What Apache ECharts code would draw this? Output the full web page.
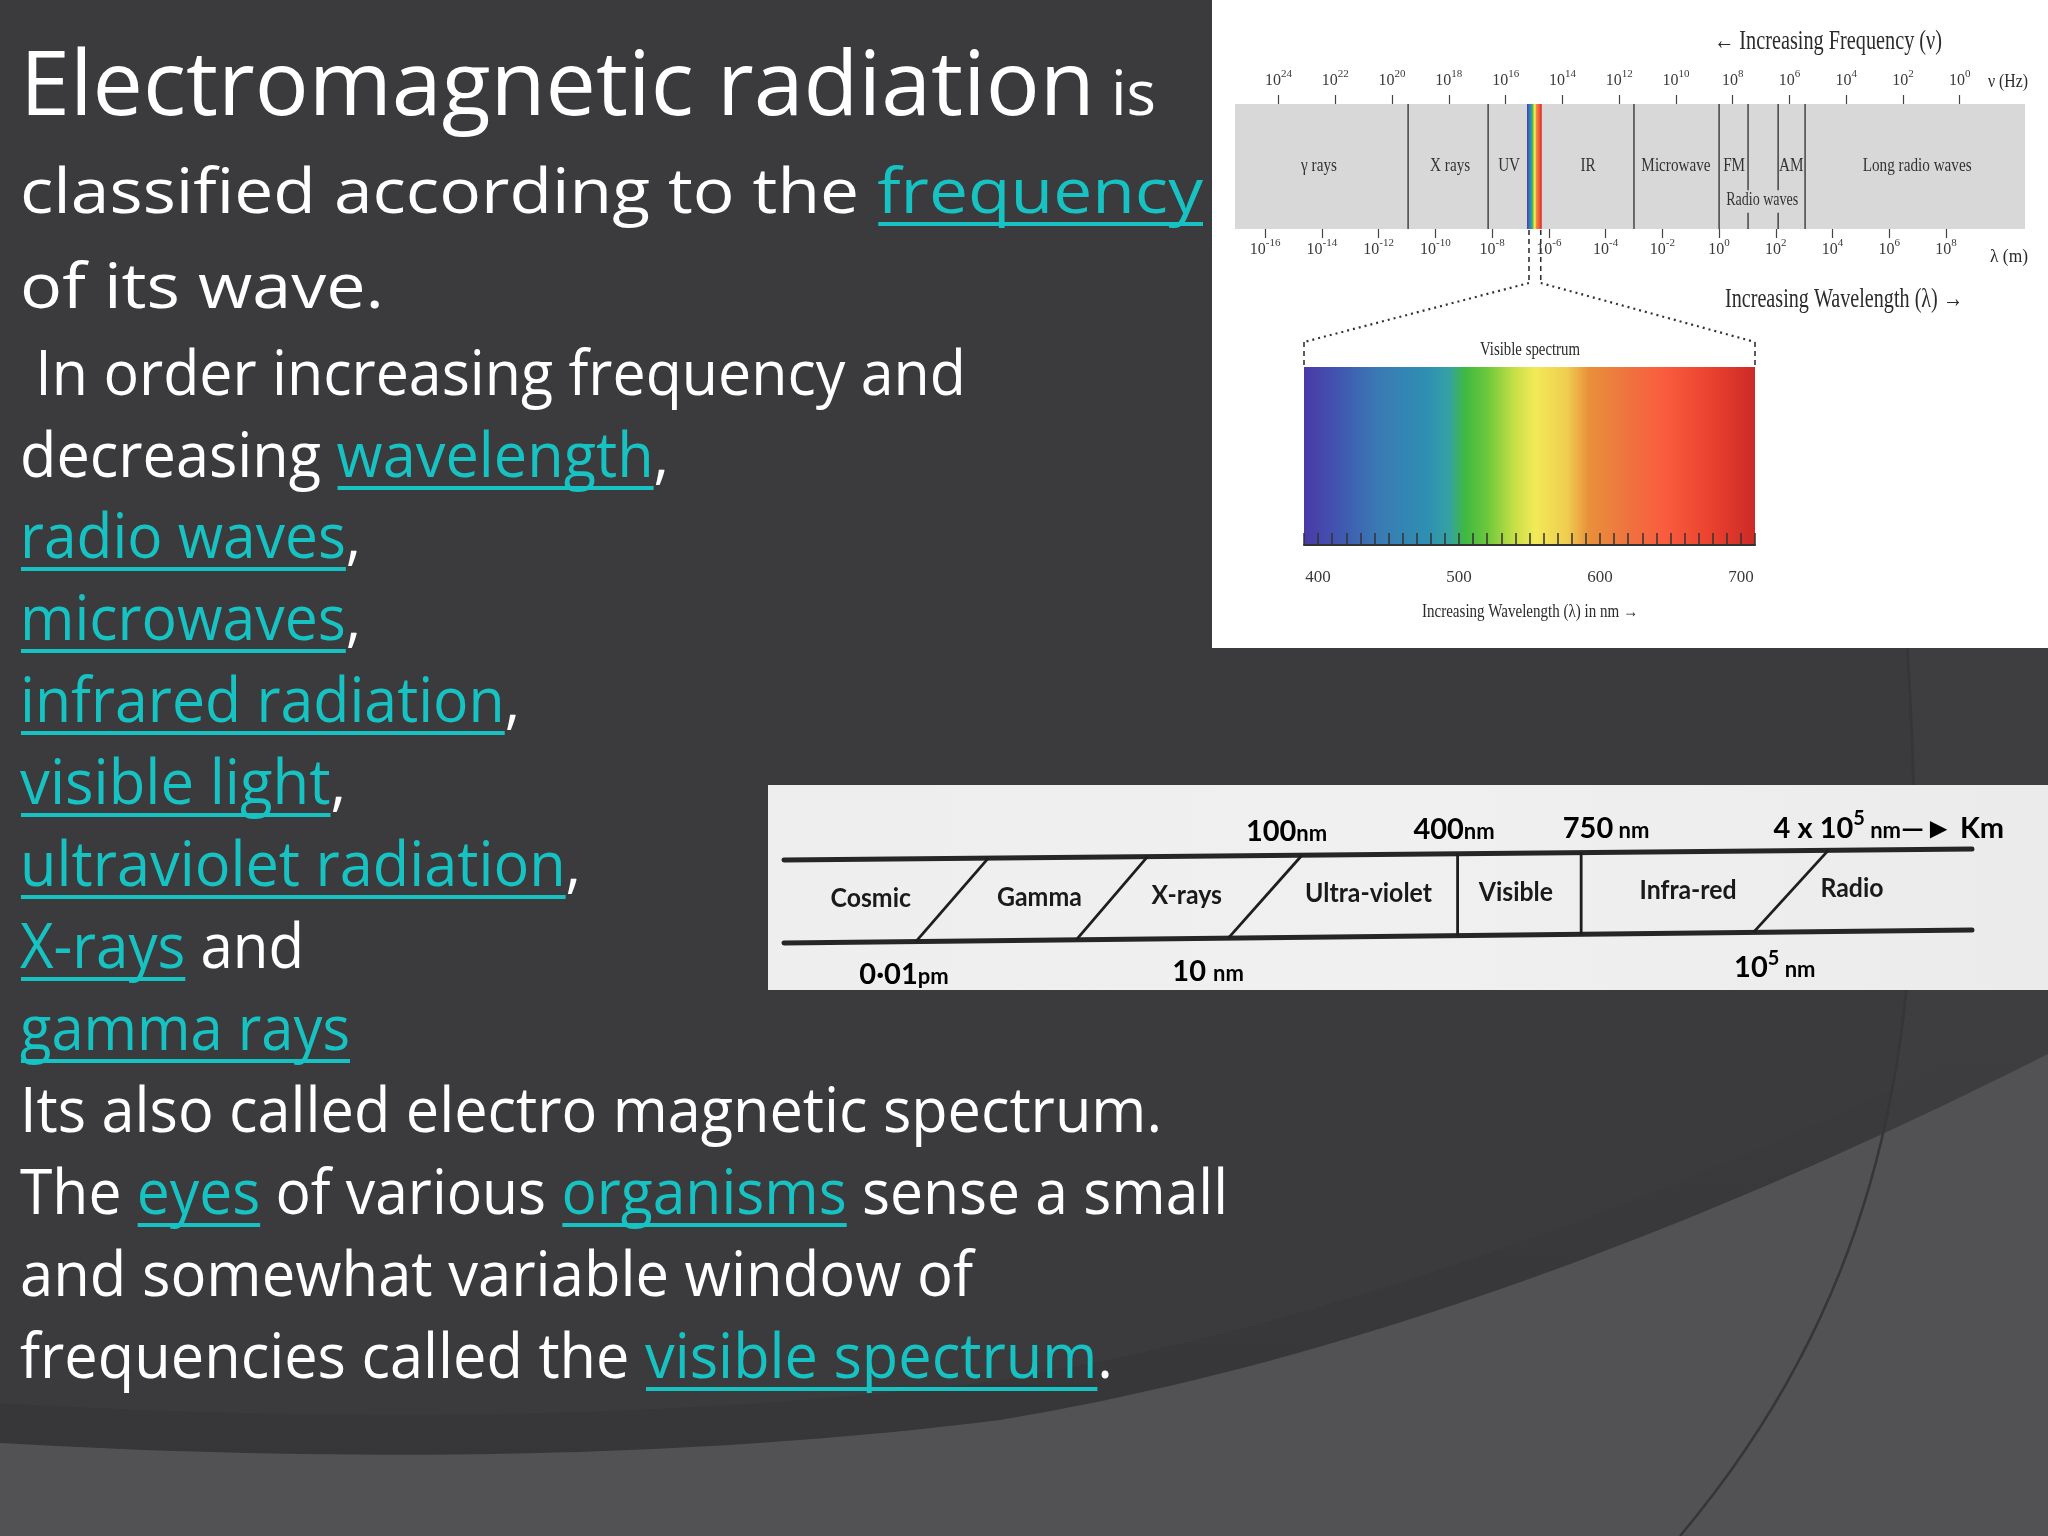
<!DOCTYPE html>
<html><head><meta charset="utf-8"><title>Electromagnetic radiation</title>
<script src="https://cdn.jsdelivr.net/npm/echarts@6.0.0/dist/echarts.min.js"></script>
<style>html,body{margin:0;padding:0;background:#3b3a3c;overflow:hidden}#chart{width:2048px;height:1536px}</style>
</head><body><div id="chart"></div>
<script>
// ---------------- DATA ----------------
// Electromagnetic spectrum band (log10 of wavelength in metres)
const FREQ_EXP = [24, 22, 20, 18, 16, 14, 12, 10, 8, 6, 4, 2, 0];
const WAVE_EXP = [-16, -14, -12, -10, -8, -6, -4, -2, 0, 2, 4, 6, 8];
const LOG_C = 8.477;                         // log10(speed of light)
const BAND_RANGE = [-17.06, 10.78];
const BAND_FULL_LINES = [-10.96, -8.14, -3.0, 0.0, 3.03];
const BAND_SPLIT_LINES = [1.02, 2.08];
const BAND_NAMES = ['\u03b3 rays', 'X rays', 'UV', 'IR', 'Microwave', 'FM', 'AM', 'Long radio waves'];
const BAND_CENTERS = [-14.10, -9.48, -7.40, -4.62, -1.52, 0.53, 2.54, 6.98];
const RADIO_NAME = ['Radio waves'];
const RADIO_CENTER = [1.52];
const VISIBLE_BAND = [-6.77, -6.25];

// Visible spectrum (nm)
const NM_RANGE = [390, 710];
const NM_LABELS = [400, 500, 600, 700];
const SPECTRUM_NM = [390, 416, 443, 477, 493, 504, 520, 539, 554, 577, 592, 623, 646, 681, 710];
const SPECTRUM_COLORS = ['#4a39a8', '#4058b0', '#3a7ab4', '#2e8fb2', '#35a2a4', '#3fb842', '#6cc83c', '#c6df46', '#f2ea58', '#f0cc50', '#e8903a', '#f07040', '#fa5c3e', '#e8402e', '#cc2a26'];

// Hand-drawn wavelength chart (0..100 along the strip)
const REGION_NAMES = ['Cosmic', 'Gamma', 'X-rays', 'Ultra-violet', 'Visible', 'Infra-red', 'Radio'];
const REGION_CENTERS = [7.3, 21.5, 33.9, 49.2, 61.6, 76.1, 89.9];
const DIVIDERS = [[11.1, 17.2], [24.6, 30.6], [37.4, 43.6], [56.7, 56.7], [67.1, 67.1], [81.6, 87.9]];
const RAIL_TOP = [88.3, 100];
const RAIL_BOTTOM = [0, 13.8];
const UPPER_LABELS = ['{n|100}{u|nm}', '{n|400}{u|nm}', '{n|750}{u| nm}', '{n|4 x 10}{s|5}{u| nm}{n|\u2014\u25ba Km}'];
const UPPER_POS = [42.3, 56.4, 69.2, 93.0];
const LOWER_LABELS = ['{n|0\u00b701}{u|pm}', '{n|10 }{u|nm}', '{n|10}{s|5}{u| nm}'];
const LOWER_POS = [10.1, 35.7, 83.4];

// Slide text: [text, isLink, isTitleSize]
const TEXT_LINES = [
  [['Electromagnetic radiation', 0, 1], [' is', 0, 0]],
  [['classified according to the ', 0], ['frequency', 1]],
  [['of its wave.', 0]],
  [[' In order increasing frequency and', 0]],
  [['decreasing ', 0], ['wavelength', 1], [',', 0]],
  [['radio waves', 1], [',', 0]],
  [['microwaves', 1], [',', 0]],
  [['infrared radiation', 1], [',', 0]],
  [['visible light', 1], [',', 0]],
  [['ultraviolet radiation', 1], [',', 0]],
  [['X-rays', 1], [' and', 0]],
  [['gamma rays', 1]],
  [['Its also called electro magnetic spectrum.', 0]],
  [['The ', 0], ['eyes', 1], [' of various ', 0], ['organisms', 1], [' sense a small', 0]],
  [['and somewhat variable window of', 0]],
  [['frequencies called the ', 0], ['visible spectrum', 1], ['.', 0]]
];

// ---------------- LAYOUT ----------------
const LINE_BASELINES = [115, 213, 308, 395, 477, 558, 640, 722, 804, 886, 968, 1050, 1132, 1214, 1296, 1378];
const LINE_RIGHTS = [1156, 1203, 384, 966, 669, 361, 361, 520, 346, 581, 304, 350, 1162, 1228, 973, 1113];
const TEXT_LEFT = 20;
const BODY_SIZE = 62, TITLE_SIZE = 90;
const SANS = 'Open Sans';
const SERIF = 'Liberation Serif';
const GEO = 'Lato';
const WHITE = '#ffffff', LINK = '#17c2c2';

const mctx = document.createElement('canvas').getContext('2d');
function fontStr(size, fam, weight) { return (weight || 'normal') + ' ' + size + 'px ' + fam; }
function textW(t, size, fam, weight) { mctx.font = fontStr(size, fam, weight); return mctx.measureText(t).width; }
function midToBase(size, fam, weight) {
  mctx.font = fontStr(size, fam, weight);
  mctx.textBaseline = 'alphabetic';
  const a1 = mctx.measureText('H').actualBoundingBoxAscent;
  mctx.textBaseline = 'middle';
  const a2 = mctx.measureText('H').actualBoundingBoxAscent;
  mctx.textBaseline = 'alphabetic';
  const d = a1 - a2;
  return isFinite(d) ? d : size * 0.33;
}

// sample bezier curves for decorative background shapes
function quad(p0, p1, p2, n) { const o = []; for (let i = 0; i <= n; i++) { const t = i / n, u = 1 - t;
  o.push([u * u * p0[0] + 2 * u * t * p1[0] + t * t * p2[0], u * u * p0[1] + 2 * u * t * p1[1] + t * t * p2[1]]); } return o; }
function cubic(p0, p1, p2, p3, n) { const o = []; for (let i = 0; i <= n; i++) { const t = i / n, u = 1 - t;
  o.push([u*u*u*p0[0] + 3*u*u*t*p1[0] + 3*u*t*t*p2[0] + t*t*t*p3[0], u*u*u*p0[1] + 3*u*u*t*p1[1] + 3*u*t*t*p2[1] + t*t*t*p3[1]]); } return o; }

const arcPts = cubic([1904, 600], [1930, 950], [1920, 1250], [1680, 1536], 40);
const lowerPts = quad([0, 1443], [560, 1475], [1000, 1420], 40).concat(quad([1000, 1420], [1480, 1340], [2048, 1054], 40).slice(1));

const elements = [];
elements.push({ type: 'polygon', id: 'bgArcRegion', z: 0, silent: true,
  shape: { points: arcPts.concat([[2048, 1536], [2048, 600]]) }, style: { fill: '#3e3d40' } });
elements.push({ type: 'polygon', id: 'bgShadow', z: 0, silent: true,
  shape: { points: lowerPts.map(p => [p[0], p[1] - 40]).concat(lowerPts.slice().reverse()) },
  style: { fill: new echarts.graphic.LinearGradient(0, 0, 0, 1, [{ offset: 0, color: 'rgba(0,0,0,0)' }, { offset: 1, color: 'rgba(0,0,0,0.08)' }]) } });
elements.push({ type: 'polygon', id: 'bgLower', z: 0, silent: true,
  shape: { points: lowerPts.concat([[2048, 1536], [0, 1536]]) }, style: { fill: '#525154' } });
elements.push({ type: 'polyline', id: 'bgArcLine', z: 0, silent: true,
  shape: { points: arcPts }, style: { stroke: '#363538', lineWidth: 2.5 } });
// picture panels
elements.push({ type: 'rect', id: 'panelTop', z: 1, silent: true,
  shape: { x: 1212, y: 0, width: 836, height: 648 }, style: { fill: '#ffffff' } });
elements.push({ type: 'rect', id: 'panelBottom', z: 1, silent: true,
  shape: { x: 768, y: 785, width: 1280, height: 205 },
  style: { fill: new echarts.graphic.LinearGradient(0, 0, 1, 0, [
    { offset: 0, color: '#efeeef' }, { offset: 0.5, color: '#f1f0f0' }, { offset: 1, color: '#ecebec' }]) } });

// left slide text
TEXT_LINES.forEach((segs, i) => {
  const parts = segs.map(s => {
    const size = s[2] ? TITLE_SIZE : BODY_SIZE;
    return { t: s[0], link: s[1], size, w: textW(s[0], size, SANS) };
  });
  const total = parts.reduce((a, p) => a + p.w, 0);
  const sc = (LINE_RIGHTS[i] - TEXT_LEFT) / total;
  const base = LINE_BASELINES[i];
  const children = [];
  let cx = 0;
  parts.forEach(p => {
    children.push({ type: 'text', x: cx, y: base - midToBase(p.size, SANS),
      style: { text: p.t, fontSize: p.size, fontFamily: SANS, fill: p.link ? LINK : WHITE, align: 'left', verticalAlign: 'middle' } });
    if (p.link) {
      children.push({ type: 'rect', shape: { x: cx + 1, y: base + 9, width: p.w - 1, height: 4 }, style: { fill: LINK } });
    }
    cx += p.w;
  });
  elements.push({ type: 'group', id: 'line' + i, x: TEXT_LEFT, y: 0, scaleX: sc, z: 10, children });
});

// captions in the top picture
function caption(id, text, cx, cy, size, targetW) {
  const sc = targetW ? targetW / textW(text, size, SERIF) : 1;
  elements.push({ type: 'text', id, x: cx, y: cy, scaleX: sc, z: 10, silent: true,
    style: { text, fontSize: size, fontFamily: SERIF, fill: '#2b2b2b', align: 'center', verticalAlign: 'middle' } });
}
caption('capFreq', '\u2190 Increasing Frequency (\u03bd)', 1828, 42, 27, 228);
caption('capWave', 'Increasing Wavelength (\u03bb) \u2192', 1844, 300, 27, 238);
caption('capVis', 'Visible spectrum', 1530, 350, 18, 100);
caption('capNm', 'Increasing Wavelength (\u03bb) in nm \u2192', 1530, 612, 18, 216);
caption('capHz', '\u03bd (Hz)', 2008, 82, 18, 40);
caption('capM', '\u03bb (m)', 2009, 257, 18, 38);

// ---------------- OPTION ----------------
const spectrumGradient = (lo, hi) => new echarts.graphic.LinearGradient(0, 0, 1, 0,
  SPECTRUM_NM.map((nm, i) => ({ offset: (nm - lo) / (hi - lo), color: SPECTRUM_COLORS[i] })));

const supRich = (base, sup) => ({
  b: { fontSize: base, fontFamily: SERIF, color: '#3a3a3a', verticalAlign: 'bottom' },
  s: { fontSize: sup, fontFamily: SERIF, color: '#3a3a3a', verticalAlign: 'top', padding: [0, 0, 9, 0] }
});

const railY = (rail, x) => rail[0] + (rail[1] - rail[0]) * x / 100;
const geoRich = {
  n: { fontSize: 29, fontFamily: GEO, fontWeight: 'bold', color: '#1a1a1a', verticalAlign: 'bottom' },
  u: { fontSize: 22, fontFamily: GEO, fontWeight: 'bold', color: '#1a1a1a', verticalAlign: 'bottom', padding: [0, 0, 1, 0] },
  s: { fontSize: 20, fontFamily: GEO, fontWeight: 'bold', color: '#1a1a1a', verticalAlign: 'top', padding: [0, 0, 14, 0] }
};

const rectItem = (api) => {
  const a = api.coord([api.value(0), 1]), b = api.coord([api.value(1), 0]);
  return { x: a[0], y: a[1], width: b[0] - a[0], height: b[1] - a[1] };
};

const option = {
  backgroundColor: '#3b3a3c',
  animation: false,
  graphic: { elements },
  grid: [
    { left: 1235, top: 104, width: 790, height: 125, containLabel: false },
    { left: 1304, top: 367, width: 451, height: 178, containLabel: false },
    { left: 784, top: 849, width: 1188, height: 94, containLabel: false }
  ],
  xAxis: [
    { gridIndex: 0, type: 'value', min: BAND_RANGE[0], max: BAND_RANGE[1], position: 'bottom', z: 5,
      axisLine: { show: false }, splitLine: { show: false },
      axisTick: { show: true, customValues: WAVE_EXP, length: 9, lineStyle: { color: '#444', width: 1.2 } },
      axisLabel: { customValues: WAVE_EXP, margin: 9, formatter: v => '{b|10}{s|' + Math.round(v) + '}', rich: supRich(16, 11) } },
    { gridIndex: 0, type: 'value', min: BAND_RANGE[0], max: BAND_RANGE[1], position: 'top', z: 5,
      axisLine: { show: false }, splitLine: { show: false },
      axisTick: { show: true, customValues: FREQ_EXP.map(f => LOG_C - f), length: 9, lineStyle: { color: '#444', width: 1.2 } },
      axisLabel: { customValues: FREQ_EXP.map(f => LOG_C - f), margin: 15, formatter: v => '{b|10}{s|' + Math.round(LOG_C - v) + '}', rich: supRich(16, 11) } },
    { gridIndex: 1, type: 'value', min: NM_RANGE[0], max: NM_RANGE[1], interval: 10, offset: 12, z: 5,
      axisLine: { show: true, lineStyle: { color: '#333', width: 2 } },
      splitLine: { show: false },
      axisTick: { show: true, inside: true, length: 12, lineStyle: { color: '#333', width: 1.5 } },
      axisLabel: { margin: 12, fontSize: 17, fontFamily: SERIF, color: '#3a3a3a', formatter: v => NM_LABELS.indexOf(v) >= 0 ? String(v) : '' } },
    { gridIndex: 2, type: 'value', min: 0, max: 100, show: false }
  ],
  yAxis: [
    { gridIndex: 0, type: 'value', min: 0, max: 1, show: false },
    { gridIndex: 1, type: 'value', min: 0, max: 1, show: false },
    { gridIndex: 2, type: 'value', min: 0, max: 100, show: false }
  ],
  series: [
    { type: 'custom', name: 'band', xAxisIndex: 0, yAxisIndex: 0, z: 3, silent: true,
      data: [BAND_RANGE],
      renderItem: (p, api) => ({ type: 'rect', shape: rectItem(api), style: { fill: '#d8d8d8' } }) },
    { type: 'custom', name: 'visible', xAxisIndex: 0, yAxisIndex: 0, z: 3, silent: true,
      data: [VISIBLE_BAND],
      renderItem: (p, api) => ({ type: 'rect', shape: rectItem(api), style: { fill: spectrumGradient(NM_RANGE[0], NM_RANGE[1]) } }) },
    { type: 'custom', name: 'boundaries', xAxisIndex: 0, yAxisIndex: 0, z: 4, silent: true,
      data: BAND_FULL_LINES.map(v => [v]),
      renderItem: (p, api) => {
        const a = api.coord([api.value(0), 1]), b = api.coord([api.value(0), 0]);
        return { type: 'line', shape: { x1: a[0], y1: a[1], x2: b[0], y2: b[1] }, style: { stroke: '#3a3a3a', lineWidth: 1.4 } };
      } },
    { type: 'custom', name: 'radioLines', xAxisIndex: 0, yAxisIndex: 0, z: 4, silent: true,
      data: BAND_SPLIT_LINES.map(v => [v]),
      renderItem: (p, api) => {
        const x = api.value(0);
        const a1 = api.coord([x, 1]), b1 = api.coord([x, 0.31]), a2 = api.coord([x, 0.13]), b2 = api.coord([x, 0]);
        const st = { stroke: '#3a3a3a', lineWidth: 1.4 };
        return { type: 'group', children: [
          { type: 'line', shape: { x1: a1[0], y1: a1[1], x2: b1[0], y2: b1[1] }, style: st },
          { type: 'line', shape: { x1: a2[0], y1: a2[1], x2: b2[0], y2: b2[1] }, style: st }] };
      } },
    { type: 'custom', name: 'bandNames', xAxisIndex: 0, yAxisIndex: 0, z: 4, silent: true,
      data: BAND_CENTERS.map(c => [c, 0.5]),
      renderItem: (p, api) => {
        const pt = api.coord([api.value(0), api.value(1)]);
        return { type: 'text', x: pt[0], y: pt[1], scaleX: 0.8,
          style: { text: BAND_NAMES[p.dataIndex], fontSize: 19, fontFamily: SERIF, fill: '#333', align: 'center', verticalAlign: 'middle' } };
      } },
    { type: 'custom', name: 'radioName', xAxisIndex: 0, yAxisIndex: 0, z: 4, silent: true,
      data: RADIO_CENTER.map(c => [c, 0.23]),
      renderItem: (p, api) => {
        const pt = api.coord([api.value(0), api.value(1)]);
        return { type: 'text', x: pt[0], y: pt[1], scaleX: 0.78,
          style: { text: RADIO_NAME[p.dataIndex], fontSize: 18, fontFamily: SERIF, fill: '#333', align: 'center', verticalAlign: 'middle' } };
      } },
    { type: 'custom', name: 'spectrum', xAxisIndex: 2, yAxisIndex: 1, z: 3, silent: true,
      data: [NM_RANGE],
      renderItem: (p, api) => ({ type: 'rect', shape: rectItem(api), style: { fill: spectrumGradient(NM_RANGE[0], NM_RANGE[1]) } }) },
    { type: 'custom', name: 'rails', xAxisIndex: 3, yAxisIndex: 2, z: 3, silent: true,
      data: [[0, RAIL_TOP[0], 100, RAIL_TOP[1]], [0, RAIL_BOTTOM[0], 100, RAIL_BOTTOM[1]]],
      renderItem: (p, api) => {
        const a = api.coord([api.value(0), api.value(1)]), b = api.coord([api.value(2), api.value(3)]);
        return { type: 'line', shape: { x1: a[0], y1: a[1], x2: b[0], y2: b[1] }, style: { stroke: '#262626', lineWidth: 5, lineCap: 'round' } };
      } },
    { type: 'custom', name: 'dividers', xAxisIndex: 3, yAxisIndex: 2, z: 3, silent: true,
      data: DIVIDERS,
      renderItem: (p, api) => {
        const xb = api.value(0), xt = api.value(1);
        const a = api.coord([xb, railY(RAIL_BOTTOM, xb)]), b = api.coord([xt, railY(RAIL_TOP, xt)]);
        return { type: 'line', shape: { x1: a[0], y1: a[1], x2: b[0], y2: b[1] }, style: { stroke: '#1e1e1e', lineWidth: 2.8 } };
      } },
    { type: 'custom', name: 'regions', xAxisIndex: 3, yAxisIndex: 2, z: 4, silent: true,
      data: REGION_CENTERS.map(c => [c]),
      renderItem: (p, api) => {
        const x = api.value(0);
        const pt = api.coord([x, (railY(RAIL_TOP, x) + railY(RAIL_BOTTOM, x)) / 2]);
        return { type: 'text', x: pt[0], y: pt[1] - 2, scaleX: 0.92,
          style: { text: REGION_NAMES[p.dataIndex], fontSize: 27, fontFamily: GEO, fontWeight: 'bold', fill: '#1a1a1a', align: 'center', verticalAlign: 'middle' } };
      } },
    { type: 'custom', name: 'upperMarks', xAxisIndex: 3, yAxisIndex: 2, z: 4, silent: true,
      data: UPPER_POS.map(c => [c]),
      renderItem: (p, api) => {
        const x = api.value(0);
        const pt = api.coord([x, railY(RAIL_TOP, x)]);
        return { type: 'text', x: pt[0], y: pt[1] - 24,
          style: { text: UPPER_LABELS[p.dataIndex], rich: geoRich, align: 'center', verticalAlign: 'middle' } };
      } },
    { type: 'custom', name: 'lowerMarks', xAxisIndex: 3, yAxisIndex: 2, z: 4, silent: true,
      data: LOWER_POS.map(c => [c]),
      renderItem: (p, api) => {
        const x = api.value(0);
        const pt = api.coord([x, railY(RAIL_BOTTOM, x)]);
        return { type: 'text', x: pt[0], y: pt[1] + 33,
          style: { text: LOWER_LABELS[p.dataIndex], rich: geoRich, align: 'center', verticalAlign: 'middle' } };
      } }
  ]
};

const chart = echarts.init(document.getElementById('chart'), null, { renderer: 'canvas', width: 2048, height: 1536 });
chart.setOption(option);

// connectors between the narrow visible strip and the enlarged visible spectrum
const vL = chart.convertToPixel({ gridIndex: 0 }, [VISIBLE_BAND[0], 0]);
const vR = chart.convertToPixel({ gridIndex: 0 }, [VISIBLE_BAND[1], 0]);
const sL = chart.convertToPixel({ gridIndex: 1 }, [NM_RANGE[0], 1]);
const sR = chart.convertToPixel({ gridIndex: 1 }, [NM_RANGE[1], 1]);
const knee = 54, drop = 25;
const dashed = { stroke: '#333', lineWidth: 1.6, lineDash: [5, 4] };
const dotted = { stroke: '#333', lineWidth: 2.2, lineDash: [2, 4] };
if (vL && sL) {
  chart.setOption({ graphic: { elements: [
    { type: 'polyline', id: 'cL1', z: 6, silent: true, shape: { points: [[vL[0] + 2, vL[1] + 1], [vL[0] + 2, vL[1] + knee]] }, style: dashed },
    { type: 'polyline', id: 'cR1', z: 6, silent: true, shape: { points: [[vR[0] - 1, vR[1] + 1], [vR[0] - 1, vR[1] + knee]] }, style: dashed },
    { type: 'polyline', id: 'cL2', z: 6, silent: true, shape: { points: [[vL[0] + 2, vL[1] + knee], [sL[0], sL[1] - drop]] }, style: dotted },
    { type: 'polyline', id: 'cR2', z: 6, silent: true, shape: { points: [[vR[0] - 1, vR[1] + knee], [sR[0], sR[1] - drop]] }, style: dotted },
    { type: 'polyline', id: 'cL3', z: 6, silent: true, shape: { points: [[sL[0], sL[1] - drop], [sL[0], sL[1]]] }, style: dashed },
    { type: 'polyline', id: 'cR3', z: 6, silent: true, shape: { points: [[sR[0], sR[1] - drop], [sR[0], sR[1]]] }, style: dashed }
  ] } });
}
</script>
</body></html>
